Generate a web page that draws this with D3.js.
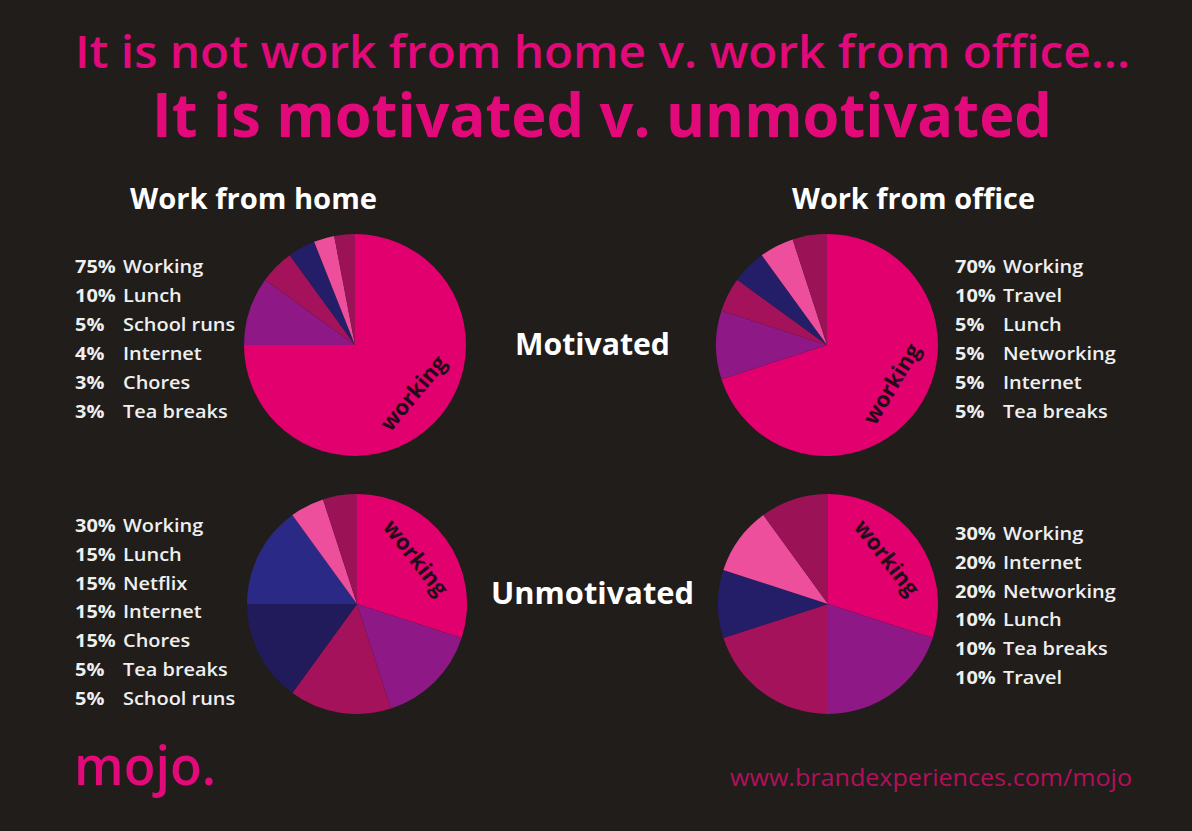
<!DOCTYPE html>
<html>
<head>
<meta charset="utf-8">
<script src="https://cdn.jsdelivr.net/npm/d3@7"></script>
<style>
  html, body { margin: 0; padding: 0; background: #201d1b; }
  svg { display: block; }
  text { font-family: "Open Sans", "DejaVu Sans", sans-serif; }
</style>
</head>
<body>
<svg id="chart" width="1192" height="831"></svg>
<script>
// ---- data ----
const titleLine1 = "It is not work from home v. work from office...";
const titleLine2 = "It is motivated v. unmotivated";
const columnTitles = ["Work from home", "Work from office"];
const rowTitles = ["Motivated", "Unmotivated"];

const homeMotivatedLabels = ["Working", "Lunch", "School runs", "Internet", "Chores", "Tea breaks"];
const homeMotivatedValues = [75, 10, 5, 4, 3, 3];

const officeMotivatedLabels = ["Working", "Travel", "Lunch", "Networking", "Internet", "Tea breaks"];
const officeMotivatedValues = [70, 10, 5, 5, 5, 5];

const homeUnmotivatedLabels = ["Working", "Lunch", "Netflix", "Internet", "Chores", "Tea breaks", "School runs"];
const homeUnmotivatedValues = [30, 15, 15, 15, 15, 5, 5];

const officeUnmotivatedLabels = ["Working", "Internet", "Networking", "Lunch", "Tea breaks", "Travel"];
const officeUnmotivatedValues = [30, 20, 20, 10, 10, 10];

const paletteSix = ["#e1006e", "#8e1886", "#a3125a", "#241e68", "#ee4f9d", "#9c1257"];
const paletteSeven = ["#e1006e", "#8e1886", "#a3125a", "#211b5c", "#2a2a86", "#ee4f9d", "#9c1257"];

const brand = "mojo.";
const url = "www.brandexperiences.com/mojo";

// ---- layout ----
const svg = d3.select("#chart");
const W = 1192, H = 831;
svg.append("rect").attr("width", W).attr("height", H).attr("fill", "#201d1b");

const pink = "#e2097a";

// two-line title as one text block
const title = svg.append("text").attr("fill", pink);
title.append("tspan").text(titleLine1)
  .attr("x", 75).attr("y", 68)
  .attr("font-size", 46).attr("font-weight", 600)
  .attr("textLength", 1055).attr("lengthAdjust", "spacingAndGlyphs");
title.append("tspan").text(titleLine2)
  .attr("x", 152).attr("y", 137)
  .attr("font-size", 61).attr("font-weight", 700)
  .attr("textLength", 900).attr("lengthAdjust", "spacingAndGlyphs");

const colTitleSpecs = [
  { x: 130, w: 247 },
  { x: 792, w: 243 }
];
columnTitles.forEach((t, i) => {
  svg.append("text").text(t)
    .attr("x", colTitleSpecs[i].x).attr("y", 209)
    .attr("font-size", 28).attr("font-weight", 700)
    .attr("fill", "#ffffff")
    .attr("textLength", colTitleSpecs[i].w).attr("lengthAdjust", "spacingAndGlyphs");
});

const rowTitleSpecs = [
  { x: 515, y: 355, w: 155 },
  { x: 491, y: 604, w: 203 }
];
rowTitles.forEach((t, i) => {
  svg.append("text").text(t)
    .attr("x", rowTitleSpecs[i].x).attr("y", rowTitleSpecs[i].y)
    .attr("font-size", 30).attr("font-weight", 700)
    .attr("fill", "#ffffff")
    .attr("textLength", rowTitleSpecs[i].w).attr("lengthAdjust", "spacingAndGlyphs");
});

const panels = [
  { labels: homeMotivatedLabels, values: homeMotivatedValues, colors: paletteSix,
    cx: 355, cy: 345, r: 111, legendX: 75, legendY: 273, step: 29 },
  { labels: officeMotivatedLabels, values: officeMotivatedValues, colors: paletteSix,
    cx: 827, cy: 345, r: 111, legendX: 955, legendY: 273, step: 29 },
  { labels: homeUnmotivatedLabels, values: homeUnmotivatedValues, colors: paletteSeven,
    cx: 357, cy: 604, r: 110, legendX: 75, legendY: 532, step: 28.8 },
  { labels: officeUnmotivatedLabels, values: officeUnmotivatedValues, colors: paletteSix,
    cx: 828, cy: 604, r: 110, legendX: 955, legendY: 540, step: 28.8 }
];

const pie = d3.pie().sort(null).value(d => d.value);
const sx = 1.14;

panels.forEach(p => {
  const data = p.labels.map((l, i) => ({ label: l, value: p.values[i], color: p.colors[i] }));
  const arcs = pie(data);
  const arc = d3.arc().innerRadius(0).outerRadius(p.r);
  const g = svg.append("g").attr("transform", `translate(${p.cx},${p.cy})`);
  g.selectAll("path").data(arcs).join("path")
    .attr("d", arc)
    .attr("fill", d => d.data.color);

  // "working" label inside first slice
  const w = arcs[0];
  const mid = (w.startAngle + w.endAngle) / 2;
  const ang = mid * 0.96;
  const rr = p.r * 0.68;
  const lx = Math.sin(ang) * rr, ly = -Math.cos(ang) * rr;
  let rot = ang * 180 / Math.PI;
  if (rot > 90 && rot < 270) rot -= 180;
  g.append("text").text("working")
    .attr("transform", `translate(${lx},${ly}) rotate(${rot})`)
    .attr("text-anchor", "middle").attr("dy", "0.35em")
    .attr("font-size", 22).attr("font-weight", 700)
    .attr("fill", "#220c17");

  // legend (slightly widened glyphs)
  const leg = svg.append("g").attr("transform", `translate(${p.legendX},0) scale(${sx},1)`);
  data.forEach((d, i) => {
    const y = p.legendY + i * p.step;
    leg.append("text").text(d.value + "%")
      .attr("x", 0).attr("y", y)
      .attr("font-size", 17.5).attr("font-weight", 700)
      .attr("fill", "#efefef");
    leg.append("text").text(d.label)
      .attr("x", 48 / sx).attr("y", y)
      .attr("font-size", 17.5).attr("font-weight", 600)
      .attr("fill", "#efefef");
  });
});

svg.append("text").text(brand)
  .attr("x", 74).attr("y", 785)
  .attr("font-size", 54).attr("font-weight", 600)
  .attr("fill", pink)
  .attr("textLength", 142).attr("lengthAdjust", "spacingAndGlyphs");

svg.append("text").text(url)
  .attr("x", 730).attr("y", 786)
  .attr("font-size", 23).attr("font-weight", 500)
  .attr("fill", "#b3105c")
  .attr("textLength", 402).attr("lengthAdjust", "spacingAndGlyphs");
</script>
</body>
</html>
